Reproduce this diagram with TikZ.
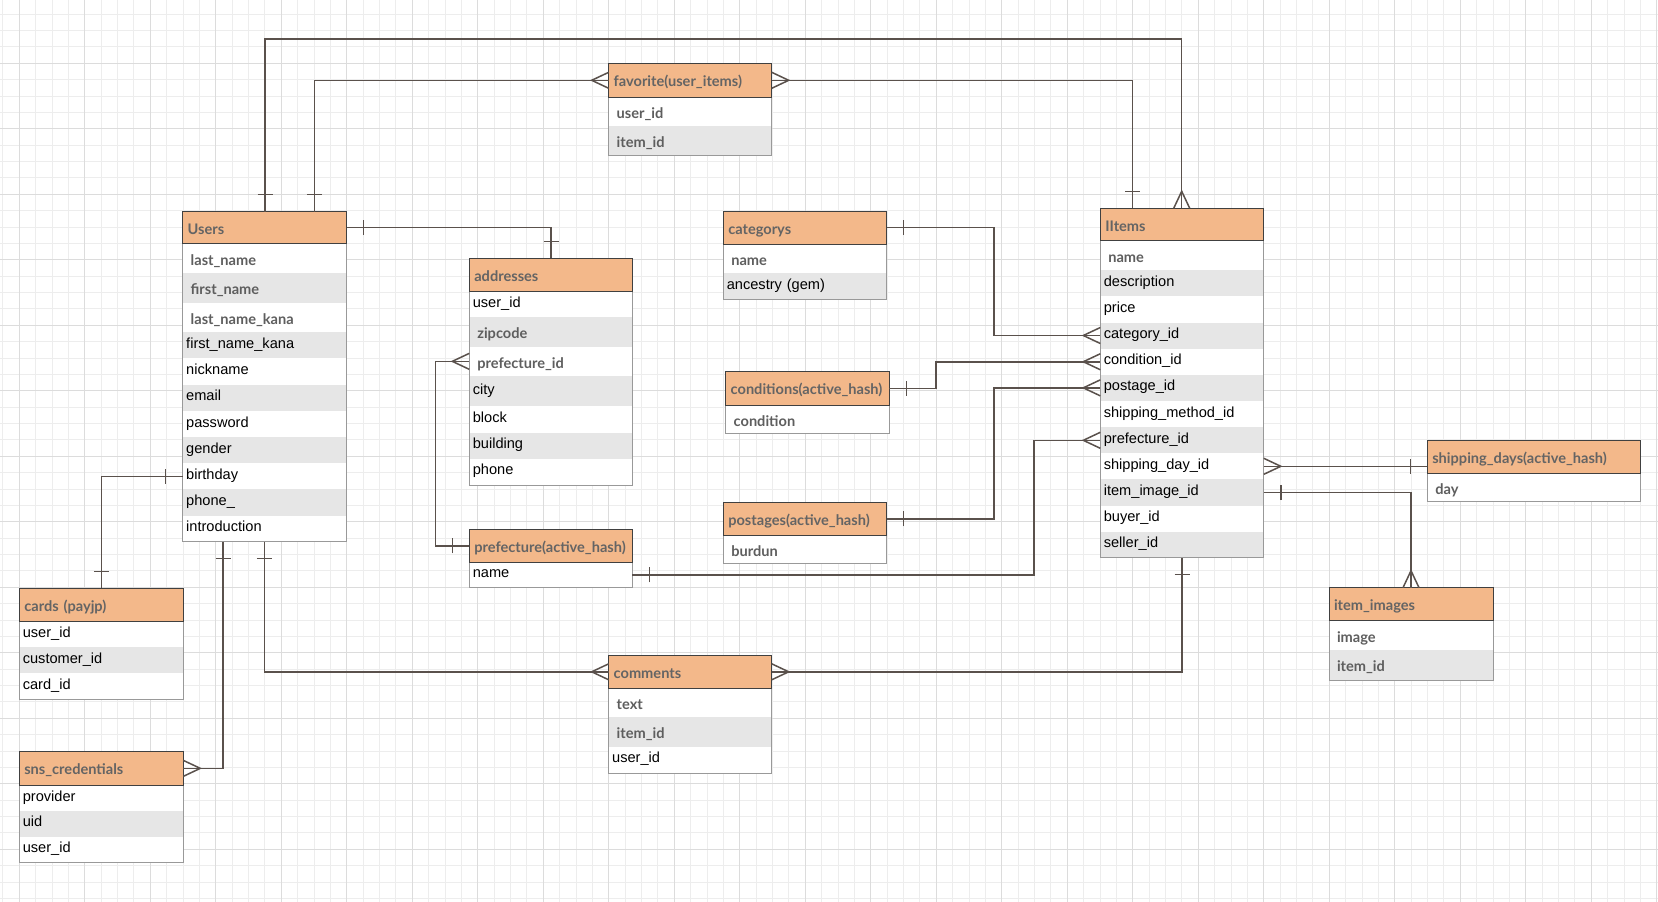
\documentclass[tikz,border=0pt]{standalone}
\usepackage{fontspec}
\setmainfont{Liberation Sans}
\newfontfamily\lato{Lato}
\usetikzlibrary{calc}
\definecolor{hdrfill}{HTML}{F3B88A}
\definecolor{stripe}{HTML}{E6E6E6}
\definecolor{conncol}{HTML}{5A514C}
\definecolor{gtextc}{HTML}{5E5E5E}
\definecolor{htextc}{HTML}{646464}
\definecolor{gridminor}{HTML}{EDEDED}
\definecolor{gridmajor}{HTML}{DCDCDC}
\tikzset{
 erbase/.style={anchor=north west, rectangle, inner ysep=0pt, outer sep=0pt, align=left},
 erhdr/.style={erbase, fill=hdrfill, draw=black!75, line width=1pt, inner xsep=5pt, font=\lato\bfseries\fontsize{14.6}{16}\selectfont, text=htextc, text height=13pt, text depth=0pt},
 gtrow/.style={erbase, inner xsep=8pt, font=\lato\bfseries\fontsize{14.6}{16}\selectfont, text=gtextc, text height=13.6pt, text depth=0pt},
 btrow/.style={erbase, inner xsep=3.5pt, font=\fontsize{14.6}{17}\selectfont, text=black, text height=9pt, text depth=3pt},
 wbg/.style={fill=white},
 sbg/.style={fill=stripe},
 conn/.style={draw=conncol, line width=1.5pt, line join=miter},
 erframe/.style={draw=black!40, line width=1pt},
 gminor/.style={draw=gridminor, line width=1pt},
 gmajor/.style={draw=gridmajor, line width=1.2pt},
}
\newcommand\erhead[6]{\pgfmathsetmacro\erH{#4-#3}\pgfmathsetmacro\erW{#5-10}\node[erhdr, minimum height=\erH pt, text width=\erW pt] (#1) at (#2,-#3) {#6};}
\newcommand\rowg[7]{\pgfmathsetmacro\erH{#4-#3}\pgfmathsetmacro\erW{#5-16}\node[gtrow,#6,minimum height=\erH pt,text width=\erW pt] (#1) at (#2,-#3) {#7};}
\newcommand\rowb[7]{\pgfmathsetmacro\erH{#4-#3}\pgfmathsetmacro\erW{#5-7}\node[btrow,#6,minimum height=\erH pt,text width=\erW pt] (#1) at (#2,-#3) {#7};}
\newcommand\tickN[1]{\draw[conn] ($(#1)+(-7.5,17)$) -- ($(#1)+(7.5,17)$);}
\newcommand\tickS[1]{\draw[conn] ($(#1)+(-7.5,-17)$) -- ($(#1)+(7.5,-17)$);}
\newcommand\tickW[1]{\draw[conn] ($(#1)+(-17,-7.5)$) -- ($(#1)+(-17,7.5)$);}
\newcommand\tickE[1]{\draw[conn] ($(#1)+(17,-7.5)$) -- ($(#1)+(17,7.5)$);}
\newcommand\crowN[1]{\draw[conn] ($(#1)+(-8,0)$) -- ($(#1)+(0,17)$) -- ($(#1)+(8,0)$);}
\newcommand\crowS[1]{\draw[conn] ($(#1)+(-8,0)$) -- ($(#1)+(0,-17)$) -- ($(#1)+(8,0)$);}
\newcommand\crowW[1]{\draw[conn] ($(#1)+(0,8)$) -- ($(#1)+(-17,0)$) -- ($(#1)+(0,-8)$);}
\newcommand\crowE[1]{\draw[conn] ($(#1)+(0,8)$) -- ($(#1)+(17,0)$) -- ($(#1)+(0,-8)$);}
\begin{document}
\begin{tikzpicture}[x=1pt,y=1pt]
\useasboundingbox (0,0) rectangle (1658,-902);
\fill[white] (0,0) rectangle (1658,-902);
% grid
\foreach \i in {0,...,101} \draw[gminor] ({2.9+16.375*\i},0) -- ({2.9+16.375*\i},-902);
\foreach \i in {0,...,55} \draw[gminor] (0,{2.2-16.375*\i}) -- (1658,{2.2-16.375*\i});
\foreach \i in {0,...,25} \draw[gmajor] ({19.3+65.5*\i},0) -- ({19.3+65.5*\i},-902);
\foreach \i in {0,...,12} \draw[gmajor] (0,{-63.3-65.5*\i}) -- (1658,{-63.3-65.5*\i});

% Users
\rowg{users-1}{182.7}{243.3}{273.3}{164}{wbg}{last\_name}
\rowg{users-2}{182.7}{273.3}{302.7}{164}{sbg}{first\_name}
\rowg{users-3}{182.7}{302.7}{331.7}{164}{wbg}{last\_name\_kana}
\rowb{users-4}{182.7}{331.7}{358.3}{164}{sbg}{first\_name\_kana}
\rowb{users-5}{182.7}{358.3}{385}{164}{wbg}{nickname}
\rowb{users-6}{182.7}{385}{410.7}{164}{sbg}{email}
\rowb{users-7}{182.7}{410.7}{437.3}{164}{wbg}{password}
\rowb{users-8}{182.7}{437.3}{463.3}{164}{sbg}{gender}
\rowb{users-birthday}{182.7}{463.3}{489.3}{164}{wbg}{birthday}
\rowb{users-10}{182.7}{489.3}{516}{164}{sbg}{phone\_}
\rowb{users-11}{182.7}{516}{541.5}{164}{wbg}{introduction}
\draw[erframe] (users-1.north west) rectangle (users-11.south east);
\erhead{users}{182.7}{211.7}{243.3}{164}{Users}

% addresses
\rowb{addr-1}{469.3}{291.7}{317.3}{163}{wbg}{user\_id}
\rowg{addr-2}{469.3}{317.3}{346.7}{163}{sbg}{zipcode}
\rowg{addr-pref}{469.3}{346.7}{376}{163}{wbg}{prefecture\_id}
\rowb{addr-4}{469.3}{376}{406}{163}{sbg}{city}
\rowb{addr-5}{469.3}{406}{432.7}{163}{wbg}{block}
\rowb{addr-6}{469.3}{432.7}{458.7}{163}{sbg}{building}
\rowb{addr-7}{469.3}{458.7}{485}{163}{wbg}{phone}
\draw[erframe] (addr-1.north west) rectangle (addr-7.south east);
\erhead{addr}{469.3}{258.3}{291.7}{163}{addresses}

% favorite
\rowg{fav-1}{608.7}{97.3}{126}{163}{wbg}{user\_id}
\rowg{fav-2}{608.7}{126}{155}{163}{sbg}{item\_id}
\draw[erframe] (fav-1.north west) rectangle (fav-2.south east);
\erhead{fav}{608.7}{63.3}{97.3}{163}{favorite(user\_items)}

% categorys
\rowg{cat-1}{723.3}{244.3}{272.7}{163.4}{wbg}{name}
\rowb{cat-2}{723.3}{272.7}{299.3}{163.4}{sbg}{ancestry (gem)}
\draw[erframe] (cat-1.north west) rectangle (cat-2.south east);
\erhead{cat}{723.3}{211}{244.3}{163.4}{categorys}

% conditions
\rowg{cond-1}{725.7}{405}{433.5}{163.6}{wbg}{condition}
\draw[erframe] (cond-1.north west) rectangle (cond-1.south east);
\erhead{cond}{725.7}{371.7}{405}{163.6}{conditions(active\_hash)}

% postages
\rowg{post-1}{723.3}{535.3}{563.6}{163.4}{wbg}{burdun}
\draw[erframe] (post-1.north west) rectangle (post-1.south east);
\erhead{post}{723.3}{502.3}{535.3}{163.4}{postages(active\_hash)}

% prefecture
\rowb{pref-name}{469.3}{562.5}{587}{163}{wbg}{name}
\draw[erframe] (pref-name.north west) rectangle (pref-name.south east);
\erhead{pref}{469.3}{529.3}{562.5}{163}{prefecture(active\_hash)}

% items
\rowg{items-1}{1100.3}{240.7}{270}{163.5}{wbg}{name}
\rowb{items-2}{1100.3}{270}{296}{163.5}{sbg}{description}
\rowb{items-3}{1100.3}{296}{322.5}{163.5}{wbg}{price}
\rowb{items-cat}{1100.3}{322.5}{348.5}{163.5}{sbg}{category\_id}
\rowb{items-cond}{1100.3}{348.5}{375}{163.5}{wbg}{condition\_id}
\rowb{items-post}{1100.3}{375}{400.7}{163.5}{sbg}{postage\_id}
\rowb{items-7}{1100.3}{400.7}{427.3}{163.5}{wbg}{shipping\_method\_id}
\rowb{items-pref}{1100.3}{427.3}{453.3}{163.5}{sbg}{prefecture\_id}
\rowb{items-sday}{1100.3}{453.3}{479.3}{163.5}{wbg}{shipping\_day\_id}
\rowb{items-img}{1100.3}{479.3}{505.7}{163.5}{sbg}{item\_image\_id}
\rowb{items-11}{1100.3}{505.7}{531.7}{163.5}{wbg}{buyer\_id}
\rowb{items-seller}{1100.3}{531.7}{557.5}{163.5}{sbg}{seller\_id}
\draw[erframe] (items-1.north west) rectangle (items-seller.south east);
\erhead{items}{1100.3}{208.3}{240.7}{163.5}{IItems}

% shipping days
\rowg{sd-1}{1427.3}{473.3}{501.5}{213.3}{wbg}{day}
\draw[erframe] (sd-1.north west) rectangle (sd-1.south east);
\erhead{sd}{1427.3}{440.7}{473.3}{213.3}{shipping\_days(active\_hash)}

% item images
\rowg{imgs-1}{1329}{620.7}{650.3}{164}{wbg}{image}
\rowg{imgs-2}{1329}{650.3}{680}{164}{sbg}{item\_id}
\draw[erframe] (imgs-1.north west) rectangle (imgs-2.south east);
\erhead{imgs}{1329}{587.7}{620.7}{164}{item\_images}

% comments
\rowg{com-1}{608.7}{688.3}{717.3}{163}{wbg}{text}
\rowg{com-2}{608.7}{717.3}{746.5}{163}{sbg}{item\_id}
\rowb{com-3}{608.7}{746.5}{773}{163}{wbg}{user\_id}
\draw[erframe] (com-1.north west) rectangle (com-3.south east);
\erhead{com}{608.7}{655.3}{688.3}{163}{comments}

% cards
\rowb{cards-1}{19.3}{621}{647.3}{164}{wbg}{user\_id}
\rowb{cards-2}{19.3}{647.3}{672.7}{164}{sbg}{customer\_id}
\rowb{cards-3}{19.3}{672.7}{699.3}{164}{wbg}{card\_id}
\draw[erframe] (cards-1.north west) rectangle (cards-3.south east);
\erhead{cards}{19.3}{588.3}{621}{164}{cards (payjp)}

% sns
\rowb{sns-1}{19.3}{785}{811}{164}{wbg}{provider}
\rowb{sns-2}{19.3}{811}{836.7}{164}{sbg}{uid}
\rowb{sns-3}{19.3}{836.7}{862.7}{164}{wbg}{user\_id}
\draw[erframe] (sns-1.north west) rectangle (sns-3.south east);
\erhead{sns}{19.3}{751.7}{785}{164}{sns\_credentials}

% connectors
\coordinate (ytop) at (0,-39.1);
\coordinate (ua) at ($(users.north west)+(82.3,0)$);
\coordinate (ia) at ($(items.north west)+(81.4,0)$);
\draw[conn] (ua) -- (ua |- ytop) -- (ia |- ytop) -- (ia);
\tickN{ua} \crowN{ia}

\coordinate (ub) at ($(users.north west)+(131.6,0)$);
\draw[conn] (ub) |- (fav.west);
\tickN{ub} \crowW{fav.west}

\coordinate (ic) at ($(items.north west)+(32.2,0)$);
\draw[conn] (fav.east) -| (ic);
\crowE{fav.east} \tickN{ic}

\coordinate (ad) at ($(addr.north west)+(81.7,0)$);
\draw[conn] (users.east) -| (ad);
\tickE{users.east} \tickN{ad}

\coordinate (xe) at (435.7,0);
\draw[conn] (addr-pref.west) -- (addr-pref.west -| xe) |- (pref.west);
\crowW{addr-pref.west} \tickW{pref.west}

\coordinate (xf) at (994,0);
\draw[conn] (cat.east) -- (cat.east -| xf) |- (items-cat.west);
\tickE{cat.east} \crowW{items-cat.west}

\coordinate (xg) at (935.8,0);
\draw[conn] (cond.east) -- (cond.east -| xg) |- (items-cond.west);
\tickE{cond.east} \crowW{items-cond.west}

\draw[conn] (post.east) -- (post.east -| xf) |- (items-post.west);
\tickE{post.east} \crowW{items-post.west}

\coordinate (xi) at (1034,0);
\draw[conn] (pref-name.east) -- (pref-name.east -| xi) |- (items-pref.west);
\tickE{pref-name.east} \crowW{items-pref.west}

\coordinate (sdj) at (items-sday.east -| sd.west);
\draw[conn] (items-sday.east) -- (sdj);
\crowE{items-sday.east} \tickW{sdj}

\coordinate (xk) at ($(imgs.north west)+(82,0)$);
\draw[conn] (items-img.east) -| (xk);
\tickE{items-img.east} \crowN{xk}

\coordinate (ul) at ($(users-11.south west)+(81.7,0)$);
\draw[conn] (ul) |- (com.west);
\tickS{ul} \crowW{com.west}

\coordinate (im) at (items-seller.south);
\draw[conn] (com.east) -| (im);
\crowE{com.east} \tickS{im}

\coordinate (un) at ($(users-11.south west)+(40.4,0)$);
\draw[conn] (un) |- (sns.east);
\tickS{un} \crowE{sns.east}

\draw[conn] (users-birthday.west) -| (cards.north);
\tickW{users-birthday.west} \tickN{cards.north}
\end{tikzpicture}
\end{document}
